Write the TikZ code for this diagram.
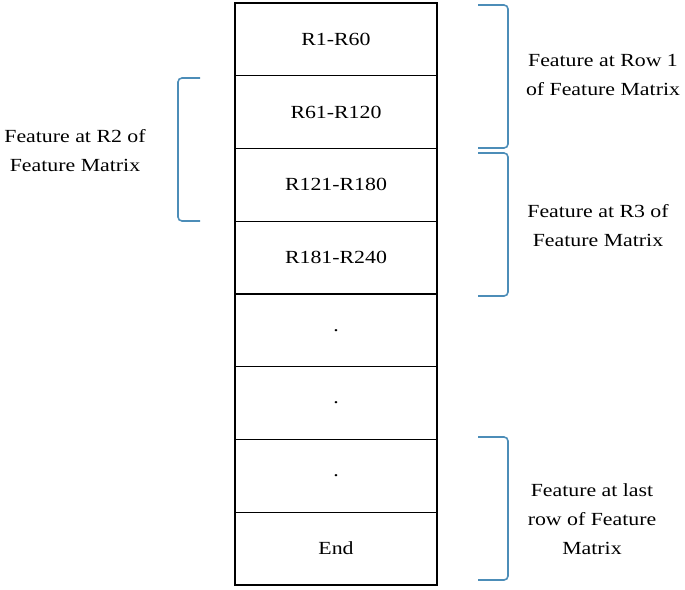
\documentclass[tikz,border=0pt]{standalone}
\usepackage{fontspec}
\setmainfont{Liberation Serif}[FakeStretch=1.18]
\begin{document}
\begin{tikzpicture}[x=1pt,y=-1pt,
  cell/.style={draw,line width=1.2pt,minimum width=202pt,minimum height=72.75pt,inner sep=0pt,font=\fontsize{18.5}{20}\selectfont},
  lbl/.style={align=center,font=\fontsize{18.5}{29}\selectfont},
  brc/.style={draw=blue!40!cyan!60!black!70,line width=1.6pt,rounded corners=4pt}]
\useasboundingbox (0,0) rectangle (685,589);
\foreach \t [count=\i] in {R1-R60,R61-R120,R121-R180,R181-R240,.,.,.,End}{
  \node[cell] (c\i) at (336,{3+72.75*(\i-0.5)}) {\t};
}
\coordinate (a1) at (478,5); \coordinate (a2) at (478,148);
\draw[brc] (a1) -- ++(30,0) |- (a2);
\coordinate (b1) at (200,78); \coordinate (b2) at (200,221);
\draw[brc] (b1) -- ++(-22,0) |- (b2);
\coordinate (d1) at (478,153); \coordinate (d2) at (478,296);
\draw[brc] (d1) -- ++(30,0) |- (d2);
\coordinate (e1) at (478,437); \coordinate (e2) at (478,580);
\draw[brc] (e1) -- ++(30,0) |- (e2);
\node[lbl] (l1) at (603,75) {Feature at Row 1\\of Feature Matrix};
\node[lbl] (l2) at (75,151) {Feature at R2 of\\Feature Matrix};
\node[lbl] (l3) at (598,226) {Feature at R3 of\\Feature Matrix};
\node[lbl] (l4) at (592,519) {Feature at last\\row of Feature\\Matrix};
\end{tikzpicture}
\end{document}
